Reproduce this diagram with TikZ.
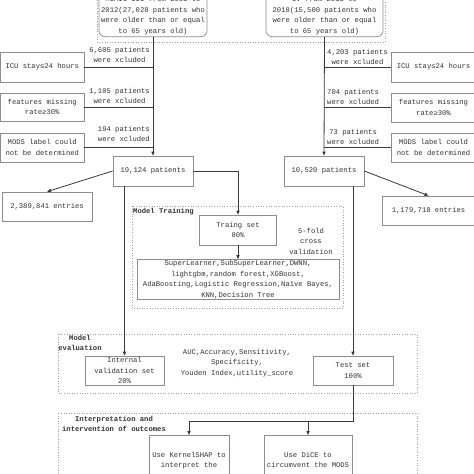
\documentclass[tikz,border=0pt]{standalone}
\usepackage{fontspec}
\setmainfont{Liberation Mono}
\usetikzlibrary{arrows.meta}
\definecolor{conncol}{HTML}{3A3A3A}
\definecolor{boxcol}{HTML}{8C8C8C}
\definecolor{grpcol}{HTML}{A0A0A0}
\definecolor{txtcol}{HTML}{333333}
\begin{document}
\begin{tikzpicture}[x=1pt,y=-1pt,
  every node/.style={font=\fontsize{7.2}{10.5}\selectfont, text=txtcol},
  boxn/.style={draw=boxcol, line width=0.7pt, align=center, inner sep=1pt},
  rboxn/.style={boxn, rounded corners=6pt},
  lbl/.style={align=center, inner sep=0pt},
  grplbl/.style={align=center, inner sep=0pt, font=\fontsize{7.2}{10.5}\selectfont\bfseries},
  grp/.style={draw=grpcol, line width=0.6pt, dotted},
  conn/.style={draw=conncol, line width=0.8pt},
  arr/.style={-{Triangle[length=4pt,width=3.2pt]}}
]
\useasboundingbox (0,0) rectangle (474,474);
\clip (0,0) rectangle (474,474);
\fill[white] (0,0) rectangle (474,474);

% group frames
\draw[grp] (97,-5) rectangle (385,42);
\draw[grp] (132,206) rectangle (343,308);
\draw[grp] (58,334) rectangle (417,393);
\draw[grp] (58,413) rectangle (417,490);

% sources
\node[rboxn, anchor=south, minimum width=108pt, inner ysep=2pt] (srcL) at (153,37)
  {\mbox{}\\MIMIC III from 2001 to\\2012(27,028 patients who\\were older than or equal\\to 65 years old)};
\node[rboxn, anchor=south, minimum width=117pt, inner ysep=2pt] (srcR) at (324.5,37)
  {\mbox{}\\IV from 2013 to\\2018(15,500 patients who\\were older than or equal\\to 65 years old)};

% left exclusions
\node[boxn, minimum width=83.5pt, minimum height=30pt] (eL1) at (42.25,67) {ICU stay≤24 hours};
\node[boxn, minimum width=83.5pt, minimum height=28pt] (eL2) at (42.25,107) {features missing\\rate≥30\%};
\node[boxn, minimum width=83.5pt, minimum height=29pt] (eL3) at (42.25,147.5) {MODS label could\\not be determined};

% right exclusions
\node[boxn, minimum width=85pt, minimum height=30pt] (eR1) at (433.5,67) {ICU stay≤24 hours};
\node[boxn, minimum width=85pt, minimum height=29pt] (eR2) at (433.5,107.5) {features missing\\rate≥30\%};
\node[boxn, minimum width=85pt, minimum height=29pt] (eR3) at (433.5,147.5) {MODS label could\\not be determined};

% patients
\node[boxn, minimum width=80pt, minimum height=30pt] (p1) at (153,171) {19,124 patients};
\node[boxn, minimum width=80pt, minimum height=30pt] (p2) at (324,171) {10,520 patients};

% entries
\node[boxn, minimum width=90pt, minimum height=29pt] (e1) at (47,206.5) {2,389,841 entries};
\node[boxn, minimum width=93pt, minimum height=29pt] (e2) at (428.5,210.5) {1,179,718 entries};

% model training
\node[grplbl, anchor=west] (mtl) at (133,212) {Model Training};
\node[boxn, minimum width=77pt, minimum height=30pt] (train) at (238,230) {Traing set\\80\%};
\node[lbl] (cv) at (311,241) {5-fold\\cross\\validation};
\node[boxn, minimum width=202pt, minimum height=39pt] (models) at (238,279.5)
  {SuperLearner,SubSuperLearner,DWNN,\\lightgbm,random forest,XGBoost,\\AdaBoosting,Logistic Regression,Naïve Bayes,\\KNN,Decision Tree};

% evaluation
\node[grplbl] (mel) at (80,343) {Model\\evaluation};
\node[boxn, minimum width=79pt, minimum height=29pt] (ival) at (124.5,370.5) {Internal\\validation set\\20\%};
\node[lbl] (metrics) at (237,363) {AUC,Accuracy,Sensitivity,\\Specificity,\\Youden Index,utility\_score};
\node[boxn, minimum width=80pt, minimum height=29pt] (test) at (353,370.5) {Test set\\100\%};

% interpretation
\node[grplbl] (iol) at (114,424) {Interpretation and\\intervention of outcomes};
\node[boxn, anchor=north, minimum width=80pt, inner ysep=16.7pt] (shap) at (189,435)
  {Use KernelSHAP to\\interpret the\\\mbox{}};
\node[boxn, anchor=north, minimum width=88pt, inner ysep=16.7pt] (dice) at (308,435)
  {Use DiCE to\\circumvent the MODS\\\mbox{}};

% exclusion labels
\node[lbl, anchor=east] (xl1) at (150,55) {6,605 patients\\were xcluded};
\node[lbl, anchor=east] (xl2) at (150,96) {1,105 patients\\were xcluded};
\node[lbl, anchor=east] (xl3) at (150,134) {194 patients\\were xcluded};
\node[lbl, anchor=west] (xr1) at (327,57) {4,203 patients\\were xcluded};
\node[lbl, anchor=west] (xr2) at (327,97) {704 patients\\were xcluded};
\node[lbl, anchor=west] (xr3) at (327,137) {73 patients\\were xcluded};

% junction coordinates
\coordinate (jL1) at (153,67);
\coordinate (jL2) at (153,107);
\coordinate (jL3) at (153,147.5);
\coordinate (jR1) at (324,67);
\coordinate (jR2) at (324,107.5);
\coordinate (jR3) at (324,147.5);
\coordinate (busL) at (189,421);
\coordinate (busD) at (308,421);

% connectors
\draw[conn, arr] (srcL.south) -- (p1.north);
\draw[conn, arr] (srcR.south) -- (p2.north);
\draw[conn] (eL1.east) -- (jL1);
\draw[conn] (eL2.east) -- (jL2);
\draw[conn] (eL3.east) -- (jL3);
\draw[conn] (eR1.west) -- (jR1);
\draw[conn] (eR2.west) -- (jR2);
\draw[conn] (eR3.west) -- (jR3);
\draw[conn, arr] (p1.west) -- (e1.north);
\draw[conn, arr] (p2.east) -- (e2.north);
\draw[conn, arr] (p1.east) -| (train.north);
\draw[conn, arr] (train.south) -- (models.north);
\draw[conn, arr] (p1.south -| ival.north) -- (ival.north);
\draw[conn, arr] (p2.south -| test.north) -- (test.north);
\draw[conn] (test.south) |- (busL);
\draw[conn, arr] (busL) -- (shap.north);
\draw[conn, arr] (busD) -- (dice.north);
\end{tikzpicture}
\end{document}
